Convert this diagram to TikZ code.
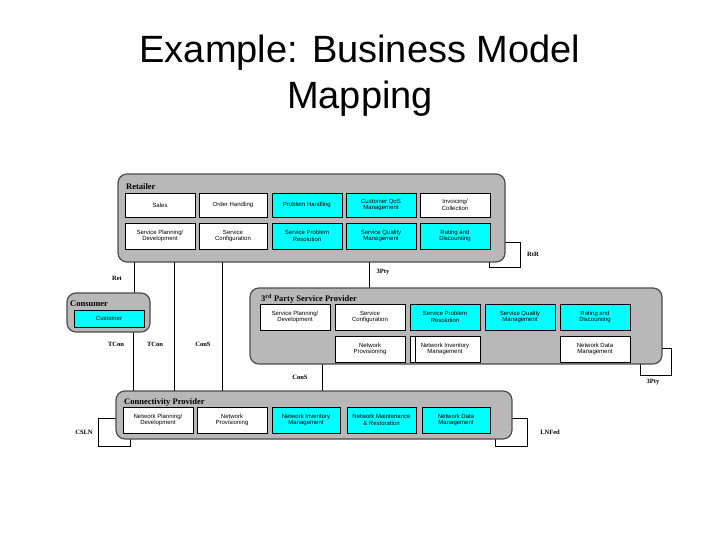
\documentclass[tikz,border=0pt]{standalone}
\usepackage{fontspec}
\setmainfont{Liberation Serif}
\newfontfamily\sans{Liberation Sans}
\definecolor{cyn}{RGB}{0,255,255}
\begin{document}
\begin{tikzpicture}[x=1pt,y=-1pt,
 grp/.style={draw=black!70,line width=1.2pt,fill=black!28,rounded corners=9pt},
 bx/.style={draw=black,line width=0.8pt,fill=white,inner sep=0pt,font=\sans\fontsize{6}{6.5}\selectfont,align=center},
 cy/.style={bx,fill=cyn},
 lab/.style={font=\bfseries\fontsize{6.5}{7}\selectfont},
 ttl/.style={font=\bfseries\fontsize{8.5}{9}\selectfont,anchor=west,inner sep=0pt},
 ln/.style={draw=black,line width=0.7pt}]
\useasboundingbox (0,0) rectangle (720,540);
\node[font=\sans\fontsize{38}{46}\selectfont,align=center] (title) at (360,76) {Example: Business Model\\Mapping};
% brackets
\draw[ln] (489,242) rectangle (520,267); \node[lab] (rtr) at (533,254) {RtR};
\draw[ln] (640,348) rectangle (671,375); \node[lab] (p3b) at (653,382) {3Pty};
\draw[ln] (98,418) rectangle (130,446); \node[lab] (csln) at (84,432) {CSLN};
\draw[ln] (495,418) rectangle (527,446); \node[lab] (lnfed) at (550,432) {LNFed};
% lines
\coordinate (a1) at (134,262); \coordinate (a2) at (134,293);
\coordinate (b1) at (174,262); \coordinate (b2) at (174,391);
\coordinate (c1) at (222,262); \coordinate (c2) at (222,391);
\coordinate (d1) at (133,332); \coordinate (d2) at (133,391);
\coordinate (e1) at (369,262); \coordinate (e2) at (369,288);
\coordinate (f1) at (322,364); \coordinate (f2) at (322,391);
\foreach \p/\q in {a1/a2,b1/b2,c1/c2,d1/d2,e1/e2,f1/f2} \draw[ln] (\p)--(\q);
\node[lab] (lret) at (117,278) {Ret};
\node[lab] (l3p) at (383,272) {3Pty};
\node[lab] (lt1) at (116,344) {TCon};
\node[lab] (lt2) at (155,344) {TCon};
\node[lab] (lc1) at (203,344) {ConS};
\node[lab] (lc2) at (300,377) {ConS};
% Retailer
\draw[grp] (118,174) rectangle (505,262);
\node[ttl] (rt) at (126,187) {Retailer};
\node[bx,minimum width=70pt,minimum height=24pt] (r1) at (160,205) {Sales};
\node[bx,minimum width=68pt,minimum height=24pt] (r2) at (233,205) {Order Handling};
\node[cy,minimum width=70pt,minimum height=24pt] (r3) at (307,205) {Problem Handling};
\node[cy,minimum width=70pt,minimum height=24pt] (r4) at (381,205) {Customer QoS\\Management};
\node[bx,minimum width=70pt,minimum height=24pt] (r5) at (455,205) {Invoicing/\\Collection};
\node[bx,minimum width=70pt,minimum height=26pt] (r6) at (160,236) {Service Planning/\\Development};
\node[bx,minimum width=68pt,minimum height=26pt] (r7) at (233,236) {Service\\Configuration};
\node[cy,minimum width=70pt,minimum height=26pt] (r8) at (307,236) {Service Problem\\Resolution};
\node[cy,minimum width=70pt,minimum height=26pt] (r9) at (381,236) {Service Quality\\Management};
\node[cy,minimum width=70pt,minimum height=26pt] (r10) at (455,236) {Rating and\\Discounting};
% Consumer
\draw[grp] (67,293) rectangle (150,332);
\node[ttl] (cot) at (70,304) {Consumer};
\node[cy,minimum width=70pt,minimum height=17pt] (cu) at (109,318.5) {Customer};
% 3rd party
\draw[grp] (250,288) rectangle (662,364);
\node[ttl] (pt) at (261,299) {3\textsuperscript{rd} Party Service Provider};
\node[bx,minimum width=70pt,minimum height=26pt] (p1) at (295,317) {Service Planning/\\Development};
\node[bx,minimum width=70pt,minimum height=26pt] (p2) at (370,317) {Service\\Configuration};
\node[cy,minimum width=70pt,minimum height=26pt] (p3) at (445,317) {Service Problem\\Resolution};
\node[cy,minimum width=70pt,minimum height=26pt] (p4) at (520,317) {Service Quality\\Management};
\node[cy,minimum width=70pt,minimum height=26pt] (p5) at (595,317) {Rating and\\Discounting};
\node[bx,minimum width=70pt,minimum height=26pt] (p6) at (370,349) {Network\\Provisioning};
\node[bx,minimum width=70pt,minimum height=26pt] (p7) at (445,349) {Network Inventory\\Management};
\draw[ln] (415,336)--(415,362);
\node[bx,minimum width=70pt,minimum height=26pt] (p8) at (595,349) {Network Data\\Management};
% Connectivity
\draw[grp] (116,391) rectangle (512,439);
\node[ttl] (cpt) at (124,402) {Connectivity Provider};
\node[bx,minimum width=70pt,minimum height=26pt] (c1n) at (158,420) {Network Planning/\\Development};
\node[bx,minimum width=70pt,minimum height=26pt] (c2n) at (232,420) {Network\\Provisioning};
\node[cy,minimum width=68pt,minimum height=26pt] (c3n) at (306,420) {Network Inventory\\Management};
\node[cy,minimum width=69pt,minimum height=26pt] (c4n) at (381.5,420) {Network Maintenance\\\& Restoration};
\node[cy,minimum width=68pt,minimum height=26pt] (c5n) at (456,420) {Network Data\\Management};
\end{tikzpicture}
\end{document}
